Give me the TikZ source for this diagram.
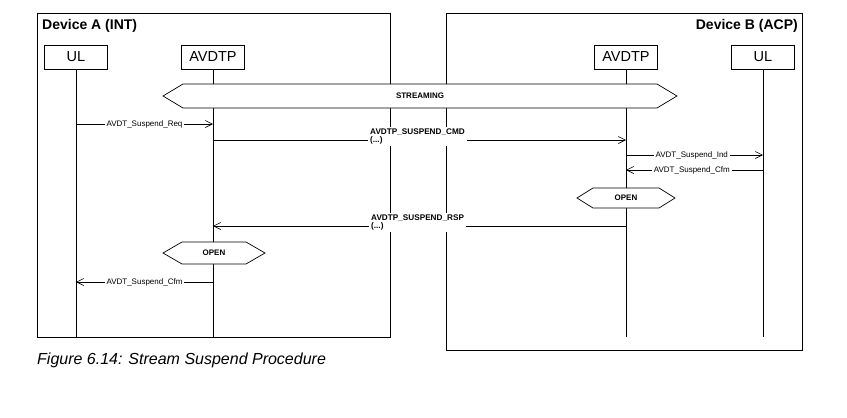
\documentclass[tikz,border=0pt]{standalone}
\usepackage{fontspec}
\setmainfont{Liberation Sans}
\usetikzlibrary{arrows.meta,shapes.misc}
\begin{document}
\begin{tikzpicture}[x=1pt,y=-1pt,
  box/.style={draw,line width=0.8pt,minimum width=63pt,minimum height=24pt,inner sep=0,font=\fontsize{14.5}{15}\selectfont},
  life/.style={line width=0.7pt},
  msg/.style={line width=0.6pt,-{Straight Barb[length=7pt,width=7pt]}},
  lab/.style={fill=white,inner sep=2pt,font=\fontsize{8}{9}\selectfont},
  blab/.style={fill=white,inner sep=2pt,font=\fontsize{8.2}{9}\selectfont\bfseries,align=left},
  hexa/.style={draw,line width=0.7pt,fill=white,font=\fontsize{8}{9}\selectfont\bfseries}]
\useasboundingbox (0,0) rectangle (847,418);
\node[draw,line width=0.8pt,minimum width=353pt,minimum height=324pt,anchor=north west] (devA) at (37,13) {};
\node[draw,line width=0.8pt,minimum width=356pt,minimum height=337pt,anchor=north west] (devB) at (446,13) {};
\node[anchor=north west,font=\fontsize{14}{15}\selectfont\bfseries,inner sep=0] (tA) at (42,19) {Device A (INT)};
\node[anchor=north east,font=\fontsize{14}{15}\selectfont\bfseries,inner sep=0] (tB) at (798,19) {Device B (ACP)};
\node[box] (ulA) at (76,57) {UL};
\node[box] (avA) at (213,57) {AVDTP};
\node[box] (avB) at (626,57) {AVDTP};
\node[box] (ulB) at (763,57) {UL};
\coordinate (ulAe) at (76,337);
\coordinate (avAe) at (213,337);
\coordinate (avBe) at (626,337);
\coordinate (ulBe) at (763,337);
\draw[life] (ulA) -- (ulAe);
\draw[life] (avA) -- (avAe);
\draw[life] (avB) -- (avBe);
\draw[life] (ulB) -- (ulBe);
% STREAMING
\draw[hexa] (163,96) -- (183,84) -- (657,84) -- (677,96) -- (657,108) -- (183,108) -- cycle;
\node[font=\fontsize{8}{9}\selectfont\bfseries] (st) at (420,96) {STREAMING};
% Req
\coordinate (r1) at (76,124); \coordinate (r2) at (213,124);
\draw[msg] (r1) -- (r2) node[lab,pos=0.5] {AVDT\_Suspend\_Req};
% CMD
\coordinate (c1) at (213,140); \coordinate (c2) at (626,140);
\draw[msg] (c1) -- (c2);
\node[blab,anchor=north west] (cmd) at (368,127) {AVDTP\_SUSPEND\_CMD\\[-1.5pt](...)};
% Ind / Cfm
\coordinate (i1) at (626,155); \coordinate (i2) at (763,155);
\draw[msg] (i1) -- (i2) node[lab,pos=0.48] {AVDT\_Suspend\_Ind};
\coordinate (f1) at (763,170); \coordinate (f2) at (626,170);
\draw[msg] (f1) -- (f2) node[lab,pos=0.52] {AVDT\_Suspend\_Cfm};
% OPEN B
\draw[hexa] (577,198) -- (593,188) -- (659,188) -- (675,198) -- (659,208) -- (593,208) -- cycle;
\node[font=\fontsize{8}{9}\selectfont\bfseries] (opB) at (626,198) {OPEN};
% RSP
\coordinate (s1) at (626,226); \coordinate (s2) at (213,226);
\draw[msg] (s1) -- (s2);
\node[blab,anchor=north west] (rsp) at (369,213) {AVDTP\_SUSPEND\_RSP\\[-1.5pt](...)};
% OPEN A
\draw[hexa] (163,253) -- (182,242) -- (246,242) -- (265,253) -- (246,264) -- (182,264) -- cycle;
\node[font=\fontsize{8}{9}\selectfont\bfseries] (opA) at (214,253) {OPEN};
% Cfm A
\coordinate (a1) at (213,282); \coordinate (a2) at (76,282);
\draw[msg] (a1) -- (a2) node[lab,pos=0.5] {AVDT\_Suspend\_Cfm};
\node[anchor=north west,inner sep=0,font=\fontsize{16}{18}\selectfont\itshape] (cap) at (37,353) {Figure 6.14: Stream Suspend Procedure};
\end{tikzpicture}
\end{document}
